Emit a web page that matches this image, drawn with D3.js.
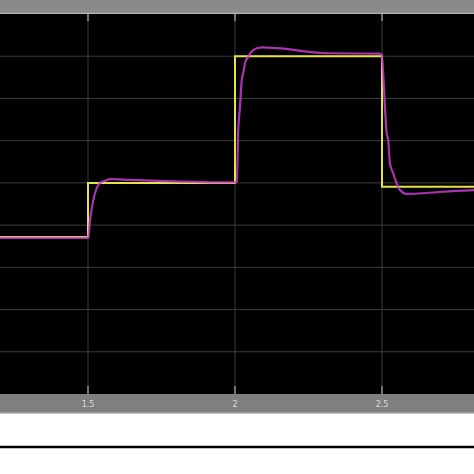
<!DOCTYPE html>
<html>
<head>
<meta charset="utf-8">
<script src="https://cdn.jsdelivr.net/npm/d3@7.9.0/dist/d3.min.js"></script>
<style>
  body { margin: 0; background: #fff; }
  svg { display: block; }
</style>
</head>
<body>
<svg id="chart" width="474" height="474"></svg>
<script>
// reference (yellow) step signal
const refTime = [1.2, 1.5, 1.5, 2.0, 2.0, 2.5, 2.5, 2.82];
const refValue = [3.72, 3.72, 5.0, 5.0, 8.0, 8.0, 4.91, 4.91];

// measured output (magenta)
const outTime = [1.2, 1.5, 1.501, 1.507, 1.518, 1.530, 1.541, 1.558, 1.575, 1.643, 1.813, 2.0,
  2.006, 2.011, 2.017, 2.023, 2.028, 2.034, 2.045, 2.057, 2.074, 2.096, 2.142, 2.323, 2.493,
  2.499, 2.504, 2.510, 2.516, 2.521, 2.527, 2.538, 2.550, 2.561, 2.584, 2.629, 2.708, 2.82];
const outValue = [3.70, 3.70, 3.72, 4.12, 4.59, 4.88, 5.0, 5.05, 5.09, 5.07, 5.03, 5.01,
  5.03, 6.25, 6.80, 7.44, 7.60, 7.83, 7.99, 8.11, 8.19, 8.21, 8.19, 8.07, 8.06,
  8.03, 7.60, 6.80, 6.17, 6.02, 5.46, 5.23, 4.99, 4.83, 4.74, 4.75, 4.79, 4.83];

const xTicks = [1.5, 2, 2.5];
const xTickLabels = ["1.5", "2", "2.5"];
const yGrid = [1, 2, 3, 4, 5, 6, 7, 8];

const W = 474;
const plotTop = 14, plotBottom = 394;

const svg = d3.select("#chart");

let x = d3.scaleLinear().domain([1.5 - 88 / 294, 1.5 + 386 / 294]).range([0, W]);
let y = d3.scaleLinear().domain([0, 9]).range([plotBottom, plotTop]);

// gray bands round the plot
svg.append("rect").attr("x", 0).attr("y", 0).attr("width", W).attr("height", plotTop).attr("fill", "#8a8a8a");
svg.append("line").attr("x1", 0).attr("x2", W).attr("y1", plotTop - 0.5).attr("y2", plotTop - 0.5)
  .attr("stroke", "#b4b4b4").attr("stroke-width", 1.5);
svg.append("rect").attr("x", 0).attr("y", plotBottom).attr("width", W).attr("height", 19).attr("fill", "#7f7f7f");
svg.append("line").attr("x1", 0).attr("x2", W).attr("y1", plotBottom + 19).attr("y2", plotBottom + 19)
  .attr("stroke", "#a8a8a8").attr("stroke-width", 1.5);

// plot area
svg.append("rect").attr("x", 0).attr("y", plotTop).attr("width", W).attr("height", plotBottom - plotTop).attr("fill", "#000");

// grid
svg.append("g").selectAll("line").data(yGrid).join("line")
  .attr("x1", 0).attr("x2", W)
  .attr("y1", d => y(d)).attr("y2", d => y(d))
  .attr("stroke", "#3c3c3c").attr("stroke-width", 1);
svg.append("g").selectAll("line").data(xTicks).join("line")
  .attr("x1", d => x(d)).attr("x2", d => x(d))
  .attr("y1", plotTop).attr("y2", plotBottom)
  .attr("stroke", "#3c3c3c").attr("stroke-width", 1);

// tick marks top and bottom
svg.append("g").selectAll("line").data(xTicks).join("line")
  .attr("x1", d => x(d)).attr("x2", d => x(d))
  .attr("y1", plotTop).attr("y2", plotTop + 7)
  .attr("stroke", "#c8c8c8").attr("stroke-width", 1);
svg.append("g").selectAll("line").data(xTicks).join("line")
  .attr("x1", d => x(d)).attr("x2", d => x(d))
  .attr("y1", plotBottom - 8).attr("y2", plotBottom)
  .attr("stroke", "#c8c8c8").attr("stroke-width", 1);

// tick labels
svg.append("g").selectAll("text").data(xTicks).join("text")
  .attr("x", d => x(d)).attr("y", 407)
  .attr("text-anchor", "middle")
  .attr("font-family", "DejaVu Sans, sans-serif")
  .attr("font-size", 8)
  .attr("fill", "#dcdcdc")
  .text((d, i) => xTickLabels[i]);

// signals
const refLine = d3.line().x((d, i) => x(refTime[i])).y(d => y(d));
const outLine = d3.line().x((d, i) => x(outTime[i])).y(d => y(d)).curve(d3.curveMonotoneX);

svg.append("path").attr("d", refLine(refValue))
  .attr("fill", "none").attr("stroke", "#e6e24a").attr("stroke-width", 2);
svg.append("path").attr("d", outLine(outValue))
  .attr("fill", "none").attr("stroke", "#c83cd0").attr("stroke-width", 2.2).attr("stroke-opacity", 0.85);

// bottom rule
svg.append("line").attr("x1", 0).attr("x2", W).attr("y1", 447).attr("y2", 447)
  .attr("stroke", "#000").attr("stroke-width", 2.5);
</script>
</body>
</html>
